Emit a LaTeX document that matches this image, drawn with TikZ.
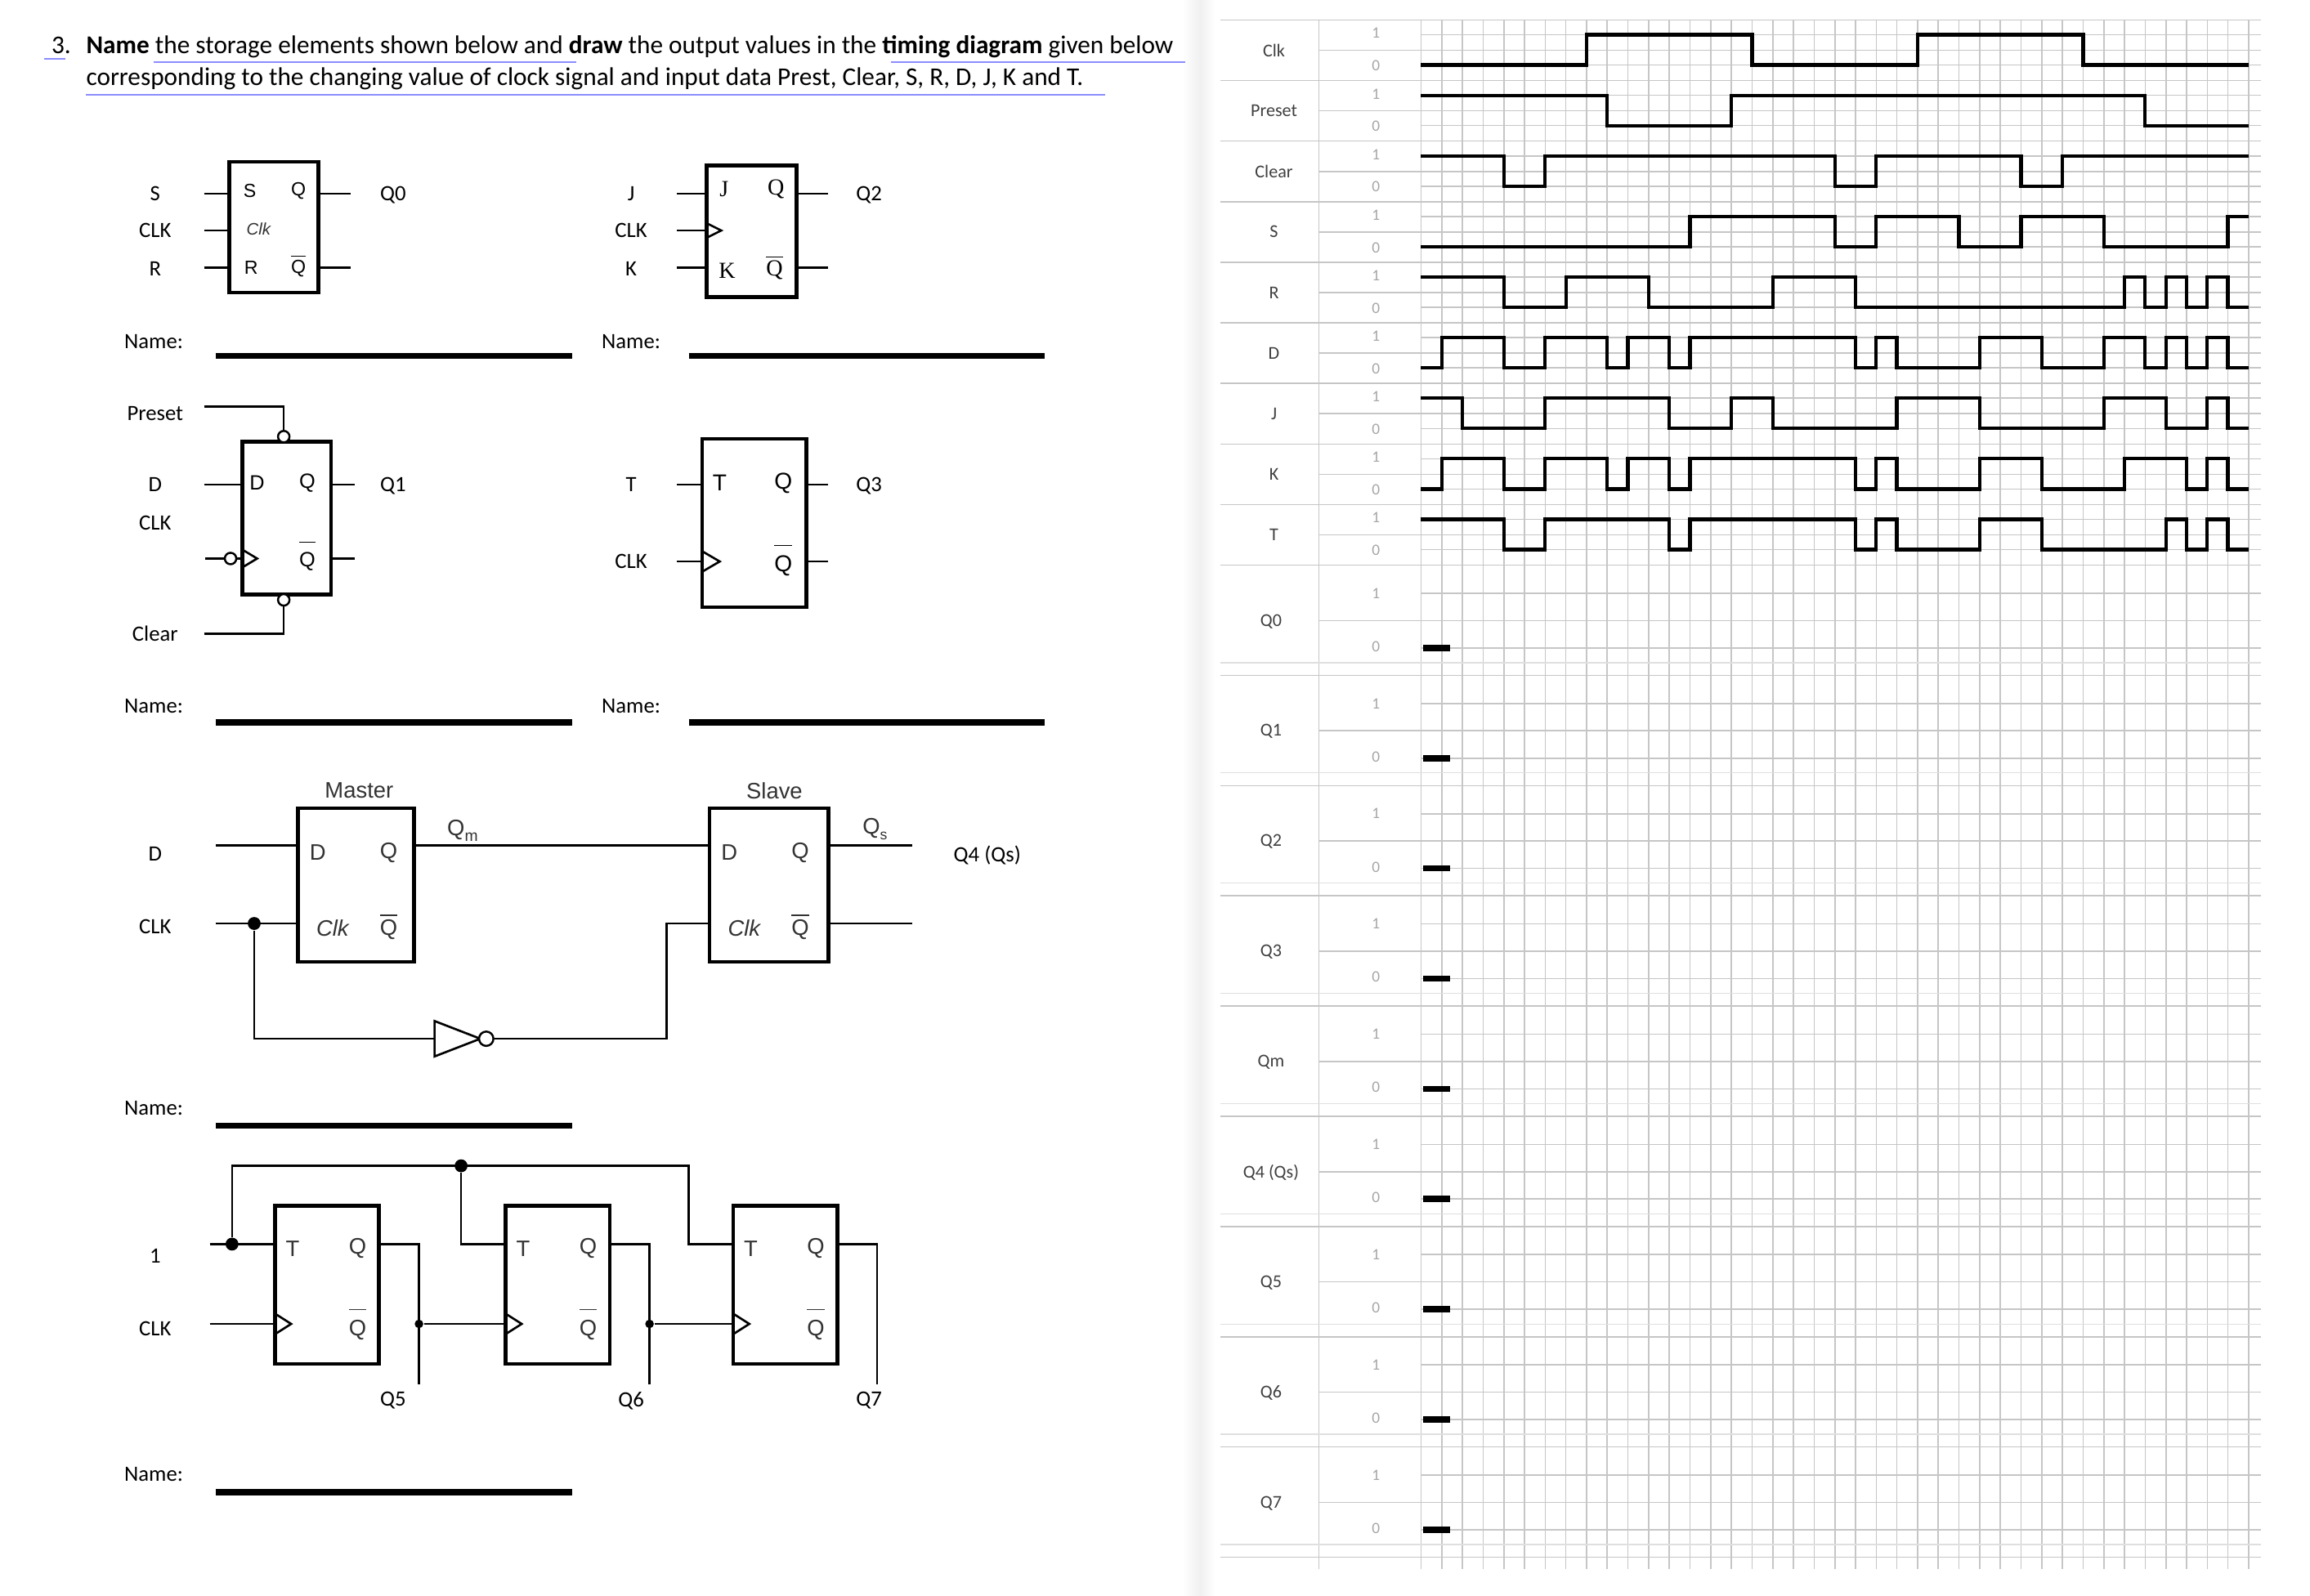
\documentclass[tikz,border=0pt]{standalone}
\usepackage{fontspec}
\setmainfont{Carlito}
\newfontfamily\arl{Liberation Sans}
\newfontfamily\ser{Liberation Serif}
\newcommand\wave[2]{\gdef\wpath{(0,#1)}\gdef\wlev{#1}%
 \foreach \t in #2{\pgfmathtruncatemacro\nl{1-\wlev}\xdef\wpath{\wpath -- (\t,\wlev) -- (\t,\nl)}\xdef\wlev{\nl}}%
 \edef\tmp{\noexpand\draw[wave] \wpath -- (40,\wlev);}\tmp}
\newcommand\QB{$\overline{\hbox{Q}}$}
\newcommand\QBB{$\overline{\raisebox{0pt}[1.4\height]{Q}}$}
\begin{document}
\begin{tikzpicture}[x=0.01808cm,y=-0.01808cm,
  lbl/.style={font=\fontsize{7.6}{9}\selectfont},
  pin/.style={font=\arl\fontsize{6.6}{8}\selectfont},
  wire/.style={line width=0.75pt},
  ff/.style={line width=1.3pt},
  nameline/.style={line width=2.1pt},
  wave/.style={line width=1.2pt,line join=miter},
  grid1/.style={draw=gray!45,line width=0.45pt},
  grid2/.style={draw=gray!25,line width=0.35pt},
  tlbl/.style={font=\fontsize{6.3}{7}\selectfont,text=black!75},
  tnum/.style={font=\fontsize{5.5}{7}\selectfont,text=gray!70},
  dot/.style={circle,fill,inner sep=0pt,minimum size=4.5pt},
  bub/.style={circle,draw,fill=white,inner sep=0pt,minimum size=4pt,line width=0.7pt}]
\useasboundingbox (0,0) rectangle (1563,1080);
\fill[white] (0,0) rectangle (1563,1080);
\shade[left color=white,right color=gray!12] (800,0) rectangle (812,1080);
\shade[left color=gray!12,right color=white] (812,0) rectangle (822,1080);
% ---------- heading ----------
\node[anchor=base west,font=\fontsize{8.9}{10}\selectfont] (h0) at (28,36) {3.};
\node[anchor=base west,font=\fontsize{8.9}{10}\selectfont,inner sep=0pt] (h1) at (58,36)
 {\textbf{Name} the storage elements shown below and \textbf{draw} the output values in the \textbf{timing diagram} given below};
\node[anchor=base west,font=\fontsize{8.9}{10}\selectfont,inner sep=0pt] (h2) at (58,58)
 {corresponding to the changing value of clock signal and input data Prest, Clear, S, R, D, J, K and T.};
\draw[blue!45,line width=0.5pt] (104,42) -- (390,42) (603,42) -- (802,42) (58,64) -- (748,64);
\draw[blue!45,line width=0.5pt] (30,40) -- (44,40);
% ---------- SR latch ----------
\draw[ff] (155,109.5) rectangle (215.5,198);
\coordinate (srS) at (155,131); \coordinate (srC) at (155,156); \coordinate (srR) at (155,181);
\draw[wire] (138,131) -- (srS) (138,156) -- (srC) (138,181) -- (srR) (215.5,131) -- (237,131) (215.5,181) -- (237,181);
\node[lbl] (lS) at (105,131) {S}; \node[lbl] (lC1) at (105,156) {CLK}; \node[lbl] (lR) at (105,182) {R};
\node[pin] at (169,129) {S}; \node[pin] at (202,129) {Q}; \node[pin,font=\arl\itshape\fontsize{5.8}{7}\selectfont,text=black!80] at (175,155) {Clk};
\node[pin] at (170,181) {R}; \node[pin] at (202,180) {\QB};
\node[lbl] (q0) at (266,132) {Q0};
% ---------- JK ----------
\draw[ff] (478,112) rectangle (539,201);
\draw[wire] (458,131) -- (478,131) (458,156) -- (478,156) (458,181) -- (478,181) (539,131) -- (560,131) (539,181) -- (560,181);
\draw[wire] (478,151) -- (488,156) -- (478,161);
\node[lbl] at (427,131) {J}; \node[lbl] at (427,156) {CLK}; \node[lbl] at (427,182) {K};
\node[font=\ser\fontsize{8}{9}\selectfont] at (490,128) {J}; \node[font=\ser\fontsize{8}{9}\selectfont] at (525,128) {Q};
\node[font=\ser\fontsize{8}{9}\selectfont] at (492,183) {K}; \node[font=\ser\fontsize{8}{9}\selectfont] at (524,181) {$\overline{\hbox{Q}}$};
\node[lbl] (q2) at (588,132) {Q2};
% names 1
\node[lbl] at (104,231) {Name:}; \draw[nameline] (146,241) -- (387,241);
\node[lbl] at (427,231) {Name:}; \draw[nameline] (466,241) -- (707,241);
% ---------- D with preset/clear ----------
\draw[ff] (164,299) rectangle (224,402.5);
\node[bub] (pb) at (192,295.5) {}; \node[bub] (cb) at (192,406) {};
\draw[wire] (138,275) -- (192,275) -- (pb.north) (138,429) -- (192,429) -- (cb.south);
\draw[wire] (138,328) -- (164,328) (224,328) -- (240,328) (224,378) -- (240,378);
\node[bub] (clkb) at (156,378) {};
\draw[wire] (139,378) -- (clkb.west) (clkb.east) -- (164,378);
\draw[wire] (164,372) -- (174,378) -- (164,384);
\node[lbl] at (105,280) {Preset}; \node[lbl] at (105,328) {D}; \node[lbl] at (105,354) {CLK}; \node[lbl] at (105,429) {Clear};
\node[pin,font=\arl\fontsize{7.2}{8}\selectfont] at (174,327) {D}; \node[pin,font=\arl\fontsize{7.2}{8}\selectfont] at (208,327) {Q};
\node[pin,font=\arl\fontsize{7.2}{8}\selectfont] at (208,376) {\QBB};
\node[lbl] (q1) at (266,329) {Q1};
% ---------- T ----------
\draw[ff] (475,297) rectangle (545.5,411);
\draw[wire] (458,328) -- (475,328) (458,380) -- (475,380) (545.5,328) -- (560,328) (545.5,380) -- (560,380);
\draw[wire] (475,373) -- (487,380) -- (475,387);
\node[lbl] at (427,328) {T}; \node[lbl] at (427,380) {CLK};
\node[pin,font=\arl\fontsize{8}{9}\selectfont] at (487,327) {T}; \node[pin,font=\arl\fontsize{8}{9}\selectfont] at (530,327) {Q};
\node[pin,font=\arl\fontsize{8}{9}\selectfont] at (530,379) {\QBB};
\node[lbl] (q3) at (588,329) {Q3};
\node[lbl] at (104,478) {Name:}; \draw[nameline] (146,489) -- (387,489);
\node[lbl] at (427,478) {Name:}; \draw[nameline] (466,489) -- (707,489);
% ---------- master slave ----------
\draw[ff] (201.5,547) rectangle (280,651);
\draw[ff] (480,547) rectangle (560.5,651);
\node[font=\arl\fontsize{7.8}{9}\selectfont,text=black!80] at (243,535) {Master};
\node[font=\arl\fontsize{7.8}{9}\selectfont,text=black!80] at (524,535) {Slave};
\draw[wire] (146,572) -- (201.5,572) (280,572) -- (480,572) (560.5,572) -- (617,572) (560.5,625) -- (617,625);
\draw[wire] (146,625) -- (201.5,625);
\node[dot] (jn) at (172,625) {};
\draw[wire] (jn) -- (172,703) -- (294,703);
\draw[wire,fill=white] (294,691) -- (325,703) -- (294,715) -- cycle;
\node[bub,minimum size=5pt] (ib) at (329,703) {};
\draw[wire] (ib.east) -- (451,703) -- (451,625) -- (480,625);
\foreach \xx in {0,278.5}{
 \node[font=\arl\fontsize{7.8}{9}\selectfont,text=black!80] at (215+\xx,577) {D};
 \node[font=\arl\fontsize{7.8}{9}\selectfont,text=black!80] at (263+\xx,577) {Q};
 \node[font=\arl\itshape\fontsize{7.8}{9}\selectfont,text=black!80] at (225+\xx,628) {Clk};
 \node[font=\arl\fontsize{7.8}{9}\selectfont,text=black!80] at (263+\xx,627) {\QB};}
\node[font=\arl\fontsize{7.8}{9}\selectfont,text=black!80] at (313,562) {Q\raisebox{-2pt}{\fontsize{5.5}{6}\selectfont m}};
\node[font=\arl\fontsize{7.8}{9}\selectfont,text=black!80] at (592,561) {Q\raisebox{-2pt}{\fontsize{5}{6}\selectfont s}};
\node[lbl] at (105,578) {D}; \node[lbl] at (105,627) {CLK};
\node[lbl] (q4) at (668,579) {Q4 (Qs)};
\node[lbl] at (104,750) {Name:}; \draw[nameline] (146,762) -- (387,762);
% ---------- T counter ----------
\foreach \bx/\n in {186/a,342/b,496/c}{
 \draw[ff] (\bx,816) rectangle (\bx+70.5,923);
 \draw[wire] (\bx,889) -- (\bx+11,896) -- (\bx,903);
 \node[font=\arl\fontsize{7.8}{9}\selectfont,text=black!80] at (\bx+12,845) {T};
 \node[font=\arl\fontsize{7.8}{9}\selectfont,text=black!80] at (\bx+56,845) {Q};
 \node[font=\arl\fontsize{7.8}{9}\selectfont,text=black!80] at (\bx+56,896) {\QBB};
 \draw[wire] (\bx+70.5,842) -- (\bx+97.5,842) -- (\bx+97.5,937);}
\draw[wire] (142,842) -- (186,842) (142,896) -- (186,896);
\node[dot] (d1) at (157,842) {};
\draw[wire] (d1) -- (157,789) -- (466,789) -- (466,842) -- (496,842);
\node[dot] (d2) at (312,789) {};
\draw[wire] (d2) -- (312,842) -- (342,842);
\node[dot,minimum size=3pt] (c1) at (283.5,896) {}; \node[dot,minimum size=3pt] (c2) at (439.5,896) {};
\draw[wire] (c1) -- (342,896) (c2) -- (496,896);
\node[lbl] at (105,850) {1}; \node[lbl] at (105,899) {CLK};
\node[lbl] at (266,948) {Q5}; \node[lbl] at (427,948) {Q6}; \node[lbl] at (588,948) {Q7};
\node[lbl] at (104,998) {Name:}; \draw[nameline] (146,1010) -- (387,1010);
% ---------- timing grid ----------
\foreach \i in {0,...,40} \draw[grid1] (961.5+14*\i,13.5) -- (961.5+14*\i,1062);
\draw[grid1] (892.5,13.5) -- (892.5,1062);
\foreach \i in {0,...,8}{
 \pgfmathsetmacro\yy{13.5+41*\i}
 \draw[grid1] (826,\yy) -- (1530,\yy);
 \draw[grid1] (961.5,\yy+10) -- (1530,\yy+10) (892.5,\yy+20.5) -- (1530,\yy+20.5) (961.5,\yy+30.5) -- (1530,\yy+30.5);
 \node[tnum] at (931,\yy+9) {1}; \node[tnum] at (931,\yy+31) {0};}
\foreach \i/\lab in {0/Clk,1/Preset,2/Clear,3/S,4/R,5/D,6/J,7/K,8/T}
 \node[tlbl] at (862,13.5+41*\i+20.5) {\lab};
\foreach \i/\lab in {0/Q0,1/Q1,2/Q2,3/Q3,4/Qm,5/Q4 (Qs),6/Q5,7/Q6,8/Q7}{
 \pgfmathsetmacro\yy{382.5+74.6*\i}
 \draw[grid1] (826,\yy) -- (1530,\yy);
 \draw[grid1] (961.5,\yy+19) -- (1530,\yy+19) (892.5,\yy+37.5) -- (1530,\yy+37.5) (961.5,\yy+56) -- (1530,\yy+56);
 \draw[grid2] (826,\yy+66) -- (1530,\yy+66);
 \node[tnum] at (931,\yy+19) {1}; \node[tnum] at (931,\yy+55) {0};
 \node[tlbl] at (860,\yy+38) {\lab};
 \draw[line width=2.2pt] (963,\yy+56) -- (981,\yy+56);}
\draw[grid1] (826,1053.9) -- (1530,1053.9);
% waves
\begin{scope}[shift={(961.5,44)},x=0.25312cm,y=0.37064cm]
\begin{scope}[yshift=0cm]\wave{0}{{8,16,24,32}}\end{scope}
\begin{scope}[yshift=-0.7413cm]\wave{1}{{9,15,35}}\end{scope}
\begin{scope}[yshift=-1.4826cm]\wave{1}{{4,6,20,22,29,31}}\end{scope}
\begin{scope}[yshift=-2.2238cm]\wave{0}{{13,20,22,26,29,33,39}}\end{scope}
\begin{scope}[yshift=-2.9651cm]\wave{1}{{4,7,11,17,21,34,35,36,37,38,39}}\end{scope}
\begin{scope}[yshift=-3.7064cm]\wave{0}{{1,4,6,9,10,12,13,21,22,23,27,30,33,35,36,37,38,39}}\end{scope}
\begin{scope}[yshift=-4.4477cm]\wave{1}{{2,6,12,15,17,23,27,33,36,38,39}}\end{scope}
\begin{scope}[yshift=-5.1890cm]\wave{0}{{1,4,6,9,10,12,13,21,22,23,27,30,34,37,38,39}}\end{scope}
\begin{scope}[yshift=-5.9302cm]\wave{1}{{4,6,12,13,21,22,23,27,30,36,37,38,39}}\end{scope}
\end{scope}
\end{tikzpicture}
\end{document}
